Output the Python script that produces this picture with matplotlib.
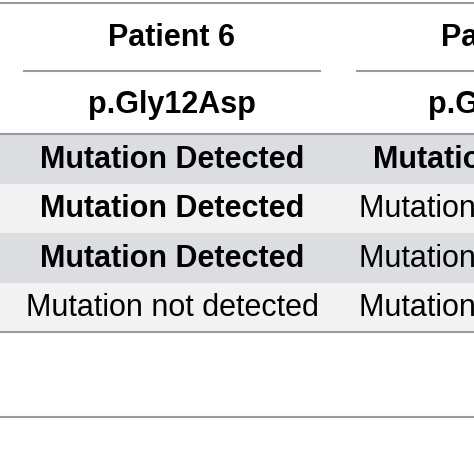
import matplotlib.pyplot as plt
from matplotlib.patches import Rectangle

# Table content
patients = ['Patient 6', 'Patient 7']
mutations = ['p.Gly12Asp', 'p.Gly12Val']
col_centers = [172, 505]
results = [
    ['Mutation Detected', 'Mutation Detected'],
    ['Mutation Detected', 'Mutation not detected'],
    ['Mutation Detected', 'Mutation not detected'],
    ['Mutation not detected', 'Mutation not detected'],
]
row_bold = [
    [True, True],
    [True, False],
    [True, False],
    [False, False],
]

plt.rcParams['font.family'] = ['Liberation Sans', 'DejaVu Sans']
fig = plt.figure(figsize=(4.74, 4.74), dpi=100)
ax = fig.add_axes([0, 0, 1, 1])
ax.set_xlim(0, 474)
ax.set_ylim(474, 0)
ax.axis('off')

line_c = '#9a9a9a'
ax.axhline(3, color=line_c, lw=1.5)
for i, name in enumerate(patients):
    ax.text(col_centers[i], 38, name, ha='center', va='center', fontsize=22, fontweight='bold')
    ax.plot([col_centers[i] - 148, col_centers[i] + 148], [71, 71], color=line_c, lw=1.5)
    ax.text(col_centers[i], 105, mutations[i], ha='center', va='center', fontsize=22, fontweight='bold')

row_top = 134
row_h = 49.5
row_colors = ['#dcdde0', '#f2f2f3']
for r, row in enumerate(results):
    y0 = row_top + r * row_h
    ax.add_patch(Rectangle((0, y0), 474, row_h, color=row_colors[r % 2], lw=0))
    for c, val in enumerate(row):
        ax.text(col_centers[c], y0 + row_h / 2 + 1, val, ha='center', va='center', fontsize=22,
                fontweight='bold' if row_bold[r][c] else 'normal')

ax.axhline(row_top, color=line_c, lw=1.5)
ax.axhline(row_top + 4 * row_h, color=line_c, lw=1.5)
ax.axhline(417, color=line_c, lw=1.5)

fig.savefig('out.png', dpi=100)
